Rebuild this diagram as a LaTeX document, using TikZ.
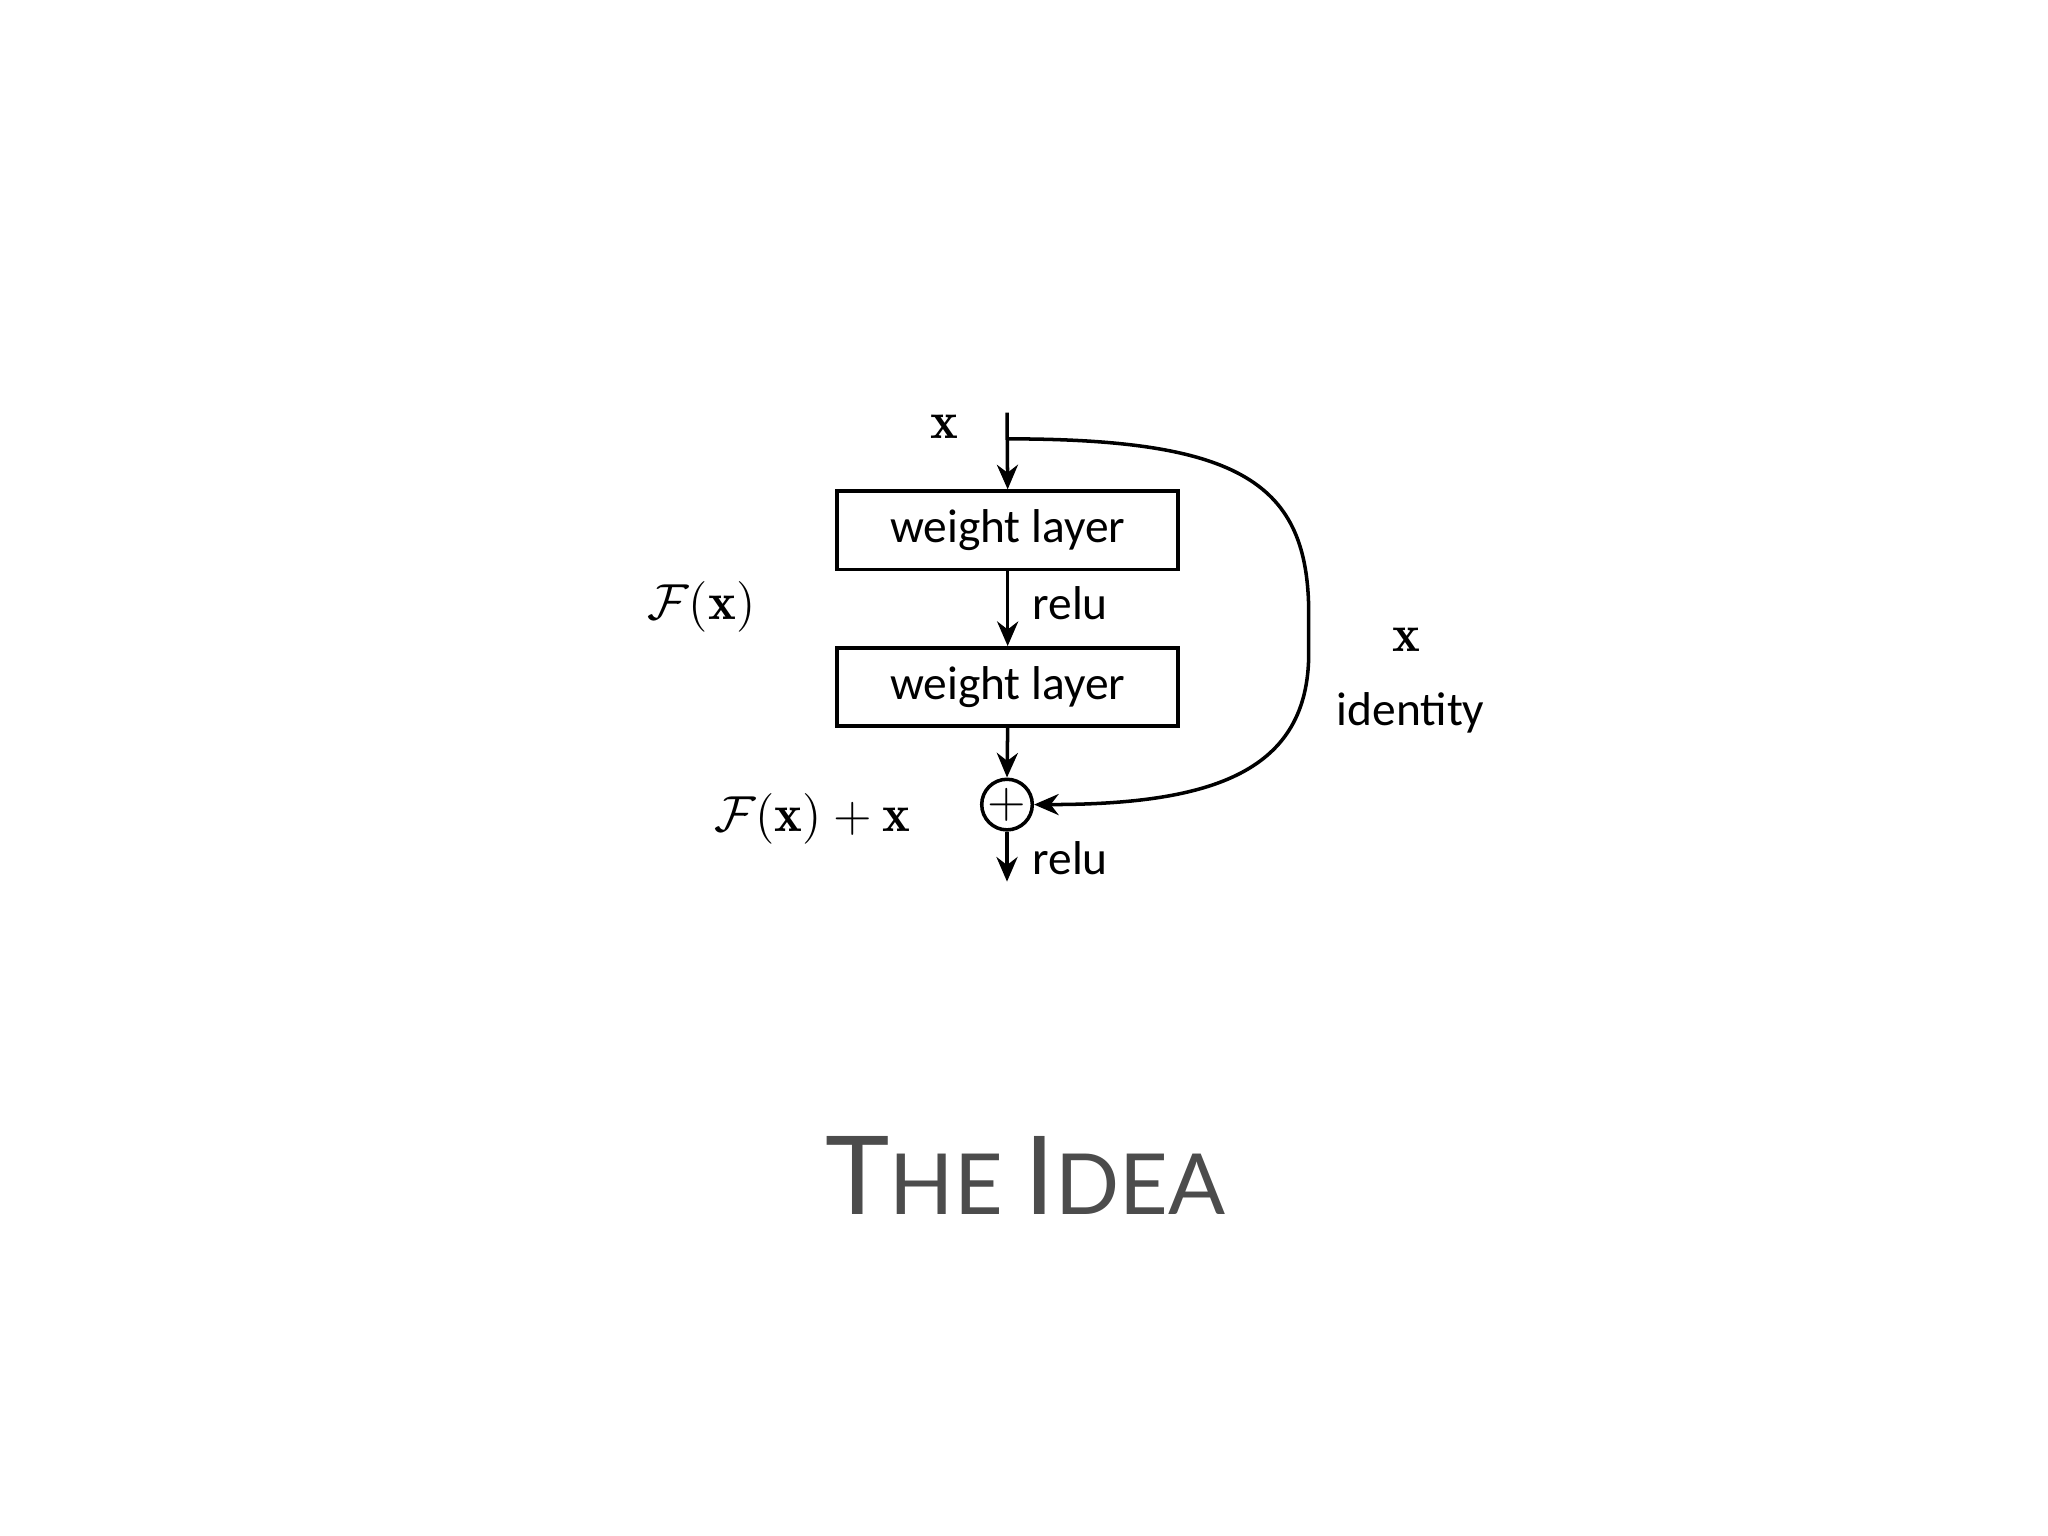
\documentclass[tikz,border=0pt]{standalone}
\usepackage{fontspec}
\newfontfamily\carl{Carlito}
\newfontfamily\titlef{Lato}
\usetikzlibrary{arrows.meta}
\begin{document}
\begin{tikzpicture}[x=0.01306cm,y=-0.01306cm,
  lyr/.style={draw,line width=1pt,minimum width=261*0.01306cm,minimum height=60*0.01306cm,inner sep=0pt,font=\carl\fontsize{13.5}{15}\selectfont},
  arr/.style={line width=1pt,-{Stealth[length=7pt,width=6pt]}},
  lbl/.style={font=\carl\fontsize{13.5}{15}\selectfont,inner sep=0pt},
  mlbl/.style={font=\fontsize{15}{17}\selectfont,inner sep=0pt}]
\useasboundingbox (0,0) rectangle (1568,1176);
\fill[white] (0,0) rectangle (1568,1176);
\coordinate (top) at (771,316);
\coordinate (bend) at (771,336);
\node[lyr] (w1) at (771.5,406) {weight layer};
\node[lyr] (w2) at (771.5,526) {weight layer};
\node[draw,circle,line width=1pt,minimum size=38*0.01306cm,inner sep=0pt,font=\fontsize{15}{17}\selectfont] (plus) at (771,616) {$+$};
\coordinate (out) at (771,675);
\draw[arr] (top) -- (w1.north);
\draw[arr] (w1.south) -- (w2.north);
\draw[arr] (w2.south) -- (plus.north);
\draw[arr] (plus.south) -- (out);
\draw[arr] (bend) .. controls (950,336) and (1002,370) .. (1002,470) -- (1002,500) .. controls (1002,590) and (930,616) .. (plus.east);
\node[mlbl] (x1) at (723,327) {$\mathbf{x}$};
\node[lbl,anchor=west] (r1) at (790,462) {relu};
\node[lbl,anchor=west] (r2) at (790,657) {relu};
\node[mlbl] (fx) at (537,465) {$\mathcal{F}(\mathbf{x})$};
\node[mlbl] (fxx) at (622,627) {$\mathcal{F}(\mathbf{x})+\mathbf{x}$};
\node[mlbl] (x2) at (1077,490) {$\mathbf{x}$};
\node[lbl] (id) at (1080,546) {identity};
\node[font=\titlef,text=black!70,inner sep=0pt,anchor=base] (title) at (785,930) {\fontsize{31}{34}\selectfont T\fontsize{24}{26}\selectfont HE \fontsize{31}{34}\selectfont I\fontsize{24}{26}\selectfont DEA};
\end{tikzpicture}
\end{document}
